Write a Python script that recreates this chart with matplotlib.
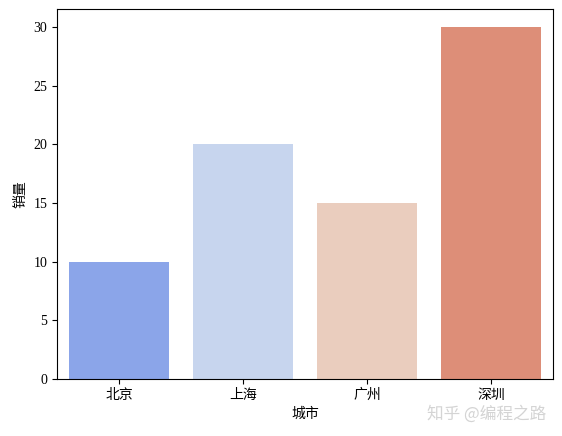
import matplotlib
matplotlib.use("Agg")
import matplotlib.pyplot as plt
import seaborn as sns
import pandas as pd

# 数据
cities = ['北京', '上海', '广州', '深圳']
sales = [10, 20, 15, 30]

plt.rcParams['font.family'] = ['Liberation Serif', 'Noto Sans CJK SC']
plt.rcParams['axes.unicode_minus'] = False

df = pd.DataFrame({'城市': cities, '销量': sales})

fig = plt.figure(figsize=(5.62, 4.36), dpi=100)
ax = fig.add_axes([57 / 562, 1 - 379 / 436, (553 - 57) / 562, (379 - 9.5) / 436])

sns.barplot(data=df, x='城市', y='销量', hue='城市', palette='coolwarm', legend=False, ax=ax)

ax.set_xlabel('城市', fontsize=10)
ax.set_ylabel('销量', fontsize=10)

# 水印
fig.text(546 / 562, 1 - 414 / 436, '知乎 @编程之路', ha='right', va='center', fontsize=12,
         color='#d4d4d4', family=['Noto Sans CJK SC', 'DejaVu Sans'])

fig.savefig('out.png', dpi=100)
